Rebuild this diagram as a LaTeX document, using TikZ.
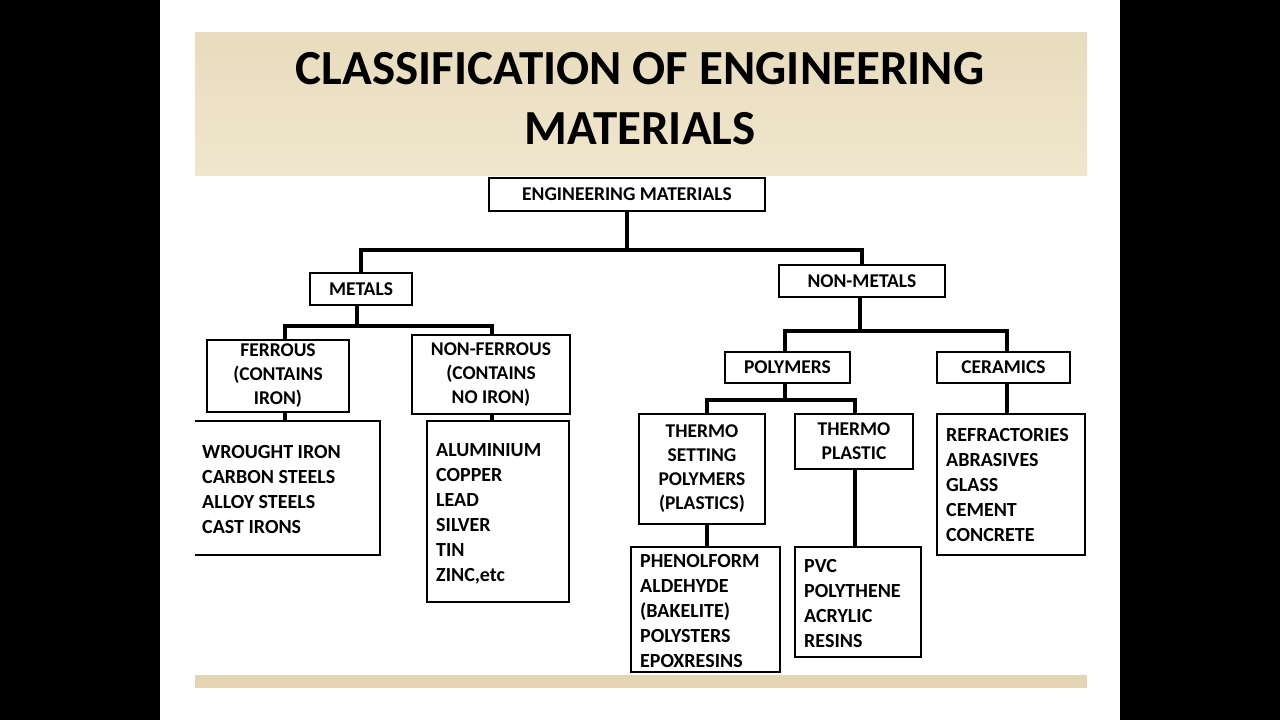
\documentclass[tikz,border=0pt]{standalone}
\usepackage{fontspec}
\setmainfont{Carlito}
\definecolor{beigeA}{RGB}{232,220,190}
\definecolor{beigeB}{RGB}{240,230,205}
\definecolor{beigeC}{RGB}{228,214,180}
\begin{document}
\begin{tikzpicture}[x=1pt,y=-1pt,
  bx/.style={draw=black,line width=2pt,fill=white,font=\bfseries\fontsize{19.5}{24}\selectfont,align=center,inner sep=0pt},
  ls/.style={font=\bfseries\fontsize{20}{25}\selectfont,align=left,anchor=north west,inner sep=0pt},
  cn/.style={line width=4pt}]
\useasboundingbox (0,0) rectangle (1280,720);
\fill[black] (0,0) rectangle (1280,720);
\fill[white] (160,0) rectangle (1120,720);
\shade[top color=beigeA,bottom color=beigeB] (195,32) rectangle (1087,175);
\fill[beigeC] (195,675) rectangle (1087,688);
\node[font=\bfseries\fontsize{49}{60}\selectfont,align=center] (title) at (640,99) {CLASSIFICATION OF ENGINEERING\\MATERIALS};
% boxes
\node[bx,minimum width=276,minimum height=33] (em) at (627,194.5) {ENGINEERING MATERIALS};
\node[bx,minimum width=102,minimum height=32] (met) at (361,289) {METALS};
\node[bx,minimum width=166,minimum height=32] (nm) at (862,281) {NON-METALS};
\node[bx,minimum width=142,minimum height=72] (fe) at (278,376) {FERROUS\\(CONTAINS\\IRON)};
\node[bx,minimum width=158,minimum height=79] (nf) at (491,374.5) {NON-FERROUS\\(CONTAINS\\NO IRON)};
\node[bx,minimum width=125,minimum height=31] (pol) at (787.5,367.5) {POLYMERS};
\node[bx,minimum width=133,minimum height=31] (cer) at (1003.5,367.5) {CERAMICS};
\node[bx,minimum width=126,minimum height=110] (ts) at (702,469) {THERMO\\SETTING\\POLYMERS\\(PLASTICS)};
\node[bx,minimum width=118,minimum height=55] (tp) at (854,441.5) {THERMO\\PLASTIC};
% lists
\coordinate (fl) at (285,421);
\draw[line width=2pt,fill=white] (195,421) -- (380,421) -- (380,555) -- (195,555);
\node[ls] (fel) at (202,445) {WROUGHT IRON\\CARBON STEELS\\ALLOY STEELS\\CAST IRONS};
\draw[line width=2pt] (427,421) rectangle (569,602);
\node[ls] (nfl) at (436,443) {ALUMINIUM\\COPPER\\LEAD\\SILVER\\TIN\\ZINC,etc};
\coordinate (nfc) at (492,421);
\draw[line width=2pt] (937,414) rectangle (1085,555);
\node[ls] (cel) at (946,428) {REFRACTORIES\\ABRASIVES\\GLASS\\CEMENT\\CONCRETE};
\coordinate (cec) at (1007,414);
\draw[line width=2pt] (631,547) rectangle (780,672);
\node[ls] (phl) at (640,554) {PHENOLFORM\\ALDEHYDE\\(BAKELITE)\\POLYSTERS\\EPOXRESINS};
\coordinate (phc) at (707,547);
\draw[line width=2pt] (795,547) rectangle (921,657);
\node[ls] (pvl) at (804,559) {PVC\\POLYTHENE\\ACRYLIC\\RESINS};
\coordinate (pvc) at (855,547);
% connectors
\draw[cn] (em.south) -- (627,250) -| (met.north);
\draw[cn] (627,250) -| (nm.north);
\draw[cn] (357,305) -- (357,326) -| (fe.north -| 285,0);
\draw[cn] (357,326) -| (nf.north -| 492,0);
\draw[cn] (fe.south -| 285,0) -- (fl);
\draw[cn] (nf.south -| 492,0) -- (nfc);
\draw[cn] (860,297) -- (860,331) -| (pol.north -| 785,0);
\draw[cn] (860,331) -| (cer.north -| 1007,0);
\draw[cn] (cer.south -| 1007,0) -- (cec);
\draw[cn] (785,383) -- (785,400) -| (ts.north -| 707,0);
\draw[cn] (785,400) -| (tp.north -| 855,0);
\draw[cn] (ts.south -| 707,0) -- (phc);
\draw[cn] (tp.south -| 855,0) -- (pvc);
\end{tikzpicture}
\end{document}
